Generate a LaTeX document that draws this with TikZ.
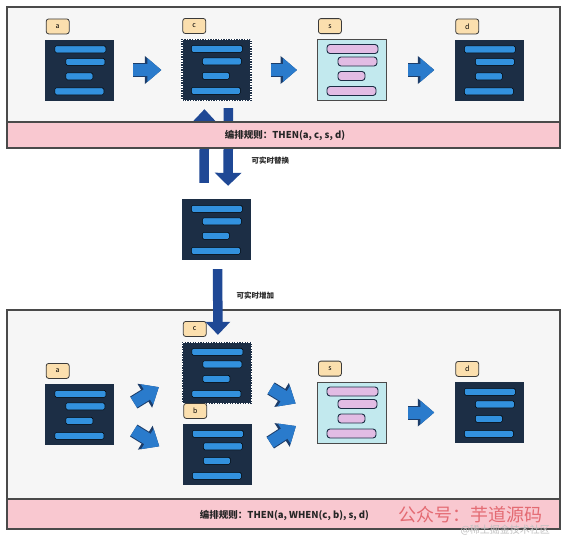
\documentclass[tikz,border=0pt]{standalone}
\usepackage{fontspec}
\setmainfont{Noto Sans CJK SC}
\usetikzlibrary{positioning,arrows.meta}

\definecolor{panelbg}{HTML}{F6F6F6}
\definecolor{panelline}{HTML}{4A4A4A}
\definecolor{bandpink}{HTML}{F9C8D0}
\definecolor{compbg}{HTML}{1C2E45}
\definecolor{barblue}{HTML}{3291DE}
\definecolor{tagbg}{HTML}{FBDFAE}
\definecolor{tagline}{HTML}{3A3A3A}
\definecolor{scriptbg}{HTML}{C2E9EE}
\definecolor{lilac}{HTML}{E2BCE4}
\definecolor{flowblue}{HTML}{2A7BCC}
\definecolor{flowline}{HTML}{1C3D6A}
\definecolor{navy}{HTML}{1F4895}
\definecolor{wmred}{HTML}{E05A62}

% bars inside a component box
\newcommand{\barsin}[3]{%
  \foreach \xa/\xb/\yy in {10/61/10,21/60/22.5,21/48/37,10/59/52}
    \draw[#2] ([shift={(\xa,\yy-#3)}]#1.north west) rectangle ([shift={(\xb,\yy+#3)}]#1.north west);}

\begin{document}
\begin{tikzpicture}[x=1pt,y=-1pt,
    panel/.style={draw=panelline, fill=panelbg, line width=1.2pt},
    band/.style={draw=panelline, fill=bandpink, line width=1.2pt},
    comp/.style={fill=compbg, minimum width=69pt, minimum height=61pt, inner sep=0pt},
    script/.style={comp, fill=scriptbg, draw=panelline, line width=1pt},
    tag/.style={draw=tagline, fill=tagbg, rounded corners=2.5pt, minimum width=23pt,
      minimum height=15pt, inner sep=0pt, line width=0.8pt, font=\fontsize{7}{7}\selectfont},
    bar/.style={fill=barblue, rounded corners=1.5pt},
    sbar/.style={fill=lilac, draw=compbg, line width=0.9pt, rounded corners=3pt},
    perf/.style={draw=white, line width=1.3pt, dash pattern=on 1.3pt off 1.3pt},
    flow/.style={draw=flowblue, line width=12pt, -{Triangle[length=14pt,width=23pt]},
      preaction={draw=flowline, line width=14pt, -{Triangle[length=16.5pt,width=27pt]}}},
    rep/.style={draw=navy, line width=9.5pt, -{Triangle[length=15pt,width=27pt]}},
    note/.style={anchor=west, text=black!85, font=\fontsize{7.5}{8}\selectfont\bfseries},
    rule/.style={text=black!85, font=\fontsize{9.5}{10}\selectfont\bfseries}]
  \useasboundingbox[fill=white] (0,0) rectangle (566,536);

  % top panel
  \draw[panel] (7,7) rectangle (560,148);

  \node[comp] (ta) at (79.5,70) {};
  \node[comp, draw=compbg, line width=1.3pt] (tc) at (216.5,70) {};
  \node[script] (ts) at (352,70) {};
  \node[comp] (td) at (489,70) {};
  \barsin{ta}{bar}{3.5}
  \barsin{tc}{bar}{3.5}
  \barsin{ts}{sbar}{4.5}
  \barsin{td}{bar}{3.5}
  \draw[perf] ([shift={(0.7,0.7)}]tc.north west) rectangle ([shift={(-0.7,-0.7)}]tc.south east);
  \foreach \n/\t in {ta/a,tc/c,ts/s,td/d}
    \node[tag, above=5pt of \n.north west, anchor=south west, xshift=1pt] (tag-\n) {\t};

  \draw[flow, shorten <=19pt, shorten >=20pt] (ta) -- (tc);
  \draw[flow, shorten <=19pt, shorten >=20pt] (tc) -- (ts);
  \draw[flow, shorten <=21pt, shorten >=20pt] (ts) -- (td);

  % replaceable component
  \node[comp] (m) at (216,229.5) {};
  \barsin{m}{bar}{3.5}

  % replace (behind the rule band)
  \draw[rep, shorten <=16pt, shorten >=8pt] ([xshift=-12pt]m.north) -- ([xshift=-12pt]tc.south);
  \draw[rep, -{Triangle[length=13pt,width=26pt]}, shorten <=7pt, shorten >=13pt]
    ([xshift=12pt]tc.south) -- ([xshift=12pt]m.north);
  \node[note] (swap) at (248,161) {可实时替换};

  \draw[band] (7,122) rectangle (560,148);
  \node[rule] (rule1) at (285,135) {编排规则：THEN(a, c, s, d)};

  % bottom panel
  \draw[panel] (7,310) rectangle (560,529);
  \draw[band] (7,499) rectangle (560,529);
  \node[rule] (rule2) at (284.5,515) {编排规则：THEN(a, WHEN(c, b), s, d)};
  \node[anchor=west, text=wmred, opacity=0.85, font=\fontsize{18}{18}\selectfont] (wm) at (395,515) {公众号：芋道源码};
  \node[anchor=west, text=black!25, font=\fontsize{10}{10}\selectfont] (wm2) at (457,530) {@稀土掘金技术社区};

  \node[comp] (ba) at (79.5,414.5) {};
  \node[comp, draw=compbg, line width=1.3pt] (bc) at (217,373) {};
  \node[comp] (bb) at (217,454.5) {};
  \node[script] (bs) at (352,412.5) {};
  \node[comp] (bd) at (489,412.5) {};
  \barsin{ba}{bar}{3.5}
  \barsin{bc}{bar}{3.5}
  \barsin{bb}{bar}{3.5}
  \barsin{bs}{sbar}{4.5}
  \barsin{bd}{bar}{3.5}
  \draw[perf] ([shift={(0.7,0.7)}]bc.north west) rectangle ([shift={(-0.7,-0.7)}]bc.south east);
  \foreach \n/\t in {ba/a,bc/c,bb/b,bs/s,bd/d}
    \node[tag, above=5pt of \n.north west, anchor=south west, xshift=1pt] (tag-\n) {\t};

  \draw[flow, shorten <=23pt, shorten >=27pt] (ba.east) -- (bc.west);
  \draw[flow, shorten <=23pt, shorten >=27pt] ([yshift=-4pt]ba.east) -- ([yshift=-6pt]bb.west);
  \draw[flow, shorten <=22pt, shorten >=25pt] ([yshift=-4pt]bc.east) -- ([yshift=-4pt]bs.west);
  \draw[flow, shorten <=22pt, shorten >=25pt] (bb.east) -- (bs.west);
  \draw[flow, shorten <=21pt, shorten >=20pt] (bs) -- (bd);

  % add
  \draw[rep, -{Triangle[length=13pt,width=24pt]}, shorten <=9pt, shorten >=7pt]
    ([xshift=1.5pt]m.south) -- ([xshift=1pt]bc.north);
  \node[note] (add) at (233,296) {可实时增加};
\end{tikzpicture}
\end{document}
